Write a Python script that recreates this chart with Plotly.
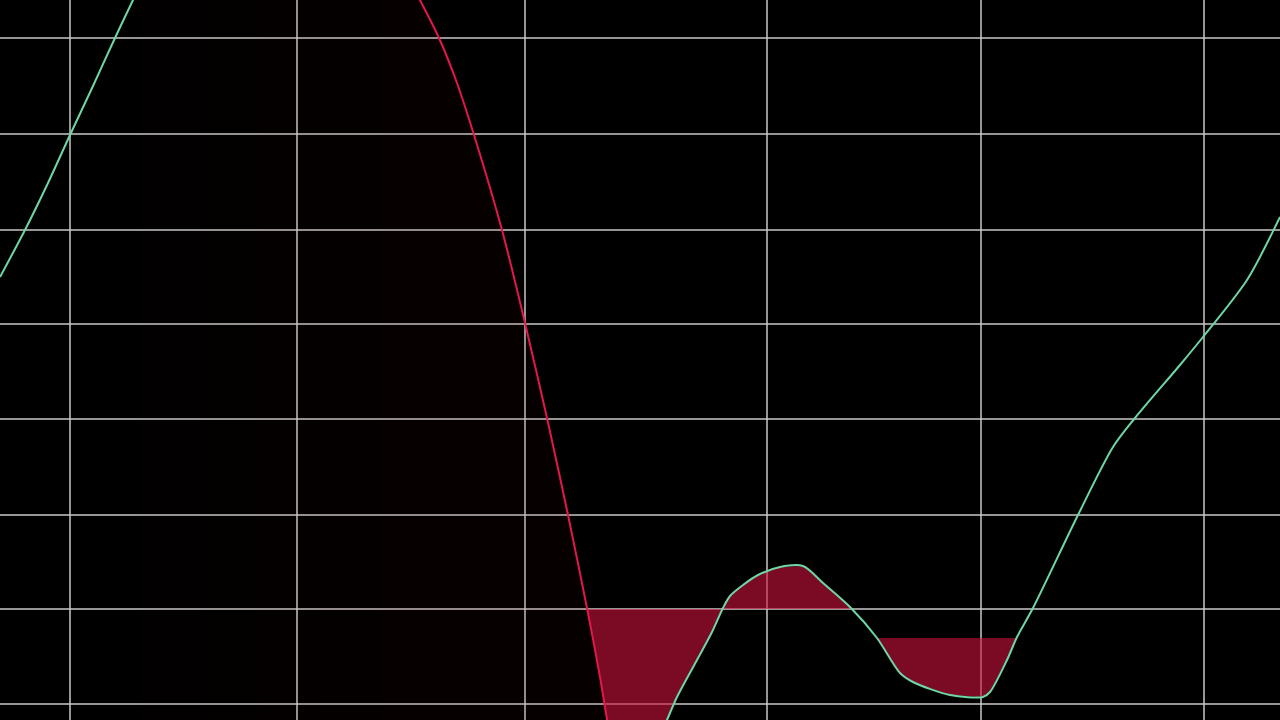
import plotly.graph_objects as go

# ---- data (units: x 0..12.8, y 0..7.2) ----
grid_x = [0.70, 2.97, 5.25, 7.67, 9.81, 12.04]
grid_y = [0.16, 1.11, 2.05, 3.01, 3.96, 4.90, 5.86, 6.82]

green_a_x = [0.00, 0.25, 0.48, 0.70, 0.93, 1.15, 1.33, 1.40]
green_a_y = [4.43, 4.90, 5.37, 5.85, 6.34, 6.82, 7.20, 7.34]

green_b_x = [6.62, 6.67, 6.77, 6.97, 7.12, 7.23, 7.30, 7.43, 7.58, 7.80, 8.03, 8.23, 8.50,
             8.77, 9.00, 9.13, 9.50, 9.83, 9.90, 10.07, 10.17, 10.33, 10.78, 11.13,
             11.35, 11.80, 12.03, 12.47, 12.80]
green_b_y = [-0.12, 0.00, 0.23, 0.60, 0.88, 1.12, 1.24, 1.35, 1.45, 1.53, 1.54, 1.37, 1.13,
             0.82, 0.47, 0.38, 0.25, 0.23, 0.28, 0.60, 0.83, 1.12, 2.05, 2.73,
             3.02, 3.55, 3.83, 4.40, 5.03]

red_x = [4.05, 4.20, 4.39, 4.57, 4.74, 5.02, 5.25, 5.47, 5.68, 5.87, 6.00, 6.09]
red_y = [7.50, 7.20, 6.82, 6.37, 5.85, 4.90, 3.97, 3.02, 2.05, 1.12, 0.43, -0.12]

level_upper = 1.11
level_lower = 0.82

tint_edges = [1.4, 2.0, 2.6, 3.2, 3.8]

GREEN = "#6fd6a5"
RED = "#e3174a"
FILL = "rgba(205,16,62,0.6)"


def runs(xs, ys, level, below=True):
    """Split a polyline into runs on one side of a level, with interpolated ends."""
    out, cur = [], []
    inside = lambda v: v <= level if below else v >= level
    for i in range(len(xs)):
        if inside(ys[i]):
            if not cur and i > 0:
                x0, y0, x1, y1 = xs[i - 1], ys[i - 1], xs[i], ys[i]
                t = (level - y0) / (y1 - y0)
                cur.append((x0 + t * (x1 - x0), level))
            cur.append((xs[i], ys[i]))
        else:
            if cur:
                x0, y0, x1, y1 = xs[i - 1], ys[i - 1], xs[i], ys[i]
                t = (level - y0) / (y1 - y0)
                cur.append((x0 + t * (x1 - x0), level))
                out.append(cur)
                cur = []
    if cur:
        out.append(cur)
    return out


fig = go.Figure()

# very faint, soft-edged tint left of the red curve
for edge in tint_edges:
    tint = [(edge, 7.5)] + [(x, y) for x, y in zip(red_x, red_y)] + [(edge, -0.2)]
    fig.add_trace(go.Scatter(x=[p[0] for p in tint], y=[p[1] for p in tint], mode="none",
                             fill="toself", fillcolor="rgba(255,0,40,0.007)", hoverinfo="skip"))

# region 1: below upper level, between red and green
red_below = runs(red_x, red_y, level_upper, True)[-1]
green_below = runs(green_b_x, green_b_y, level_upper, True)[0]
poly1 = red_below + green_below
# region 2: green above upper level
poly2 = [r for r in runs(green_b_x, green_b_y, level_upper, False) if r[0][0] > 7 and r[-1][0] < 9][0]
# region 3: green below lower level
poly3 = [r for r in runs(green_b_x, green_b_y, level_lower, True) if r[0][0] > 8][0]

for poly in (poly1, poly2, poly3):
    fig.add_trace(go.Scatter(x=[p[0] for p in poly], y=[p[1] for p in poly], mode="none",
                             fill="toself", fillcolor=FILL, hoverinfo="skip"))

line_kw = dict(width=2, shape="spline", smoothing=0.8)
fig.add_trace(go.Scatter(x=red_x, y=red_y, mode="lines", line=dict(color=RED, **line_kw)))
fig.add_trace(go.Scatter(x=green_a_x, y=green_a_y, mode="lines", line=dict(color=GREEN, **line_kw)))
fig.add_trace(go.Scatter(x=green_b_x, y=green_b_y, mode="lines", line=dict(color=GREEN, **line_kw)))

axis_common = dict(showticklabels=False, zeroline=False, showline=False, ticks="",
                   showgrid=True, gridcolor="rgba(200,200,200,0.75)", gridwidth=2,
                   tickmode="array")
fig.update_layout(
    width=1280, height=720,
    margin=dict(l=0, r=0, t=0, b=0),
    paper_bgcolor="#000000", plot_bgcolor="#000000",
    showlegend=False,
    xaxis=dict(range=[0, 12.8], tickvals=grid_x, **axis_common),
    yaxis=dict(range=[0, 7.2], tickvals=grid_y, **axis_common),
)

fig.write_html("out.html", config={"displayModeBar": False})

# remove default page margin so the figure fills the window
with open("out.html", "r", encoding="utf-8") as f:
    html = f.read()
html = html.replace("<head>", "<head><style>html,body{margin:0;padding:0;background:#000;overflow:hidden;}</style>", 1)
with open("out.html", "w", encoding="utf-8") as f:
    f.write(html)
